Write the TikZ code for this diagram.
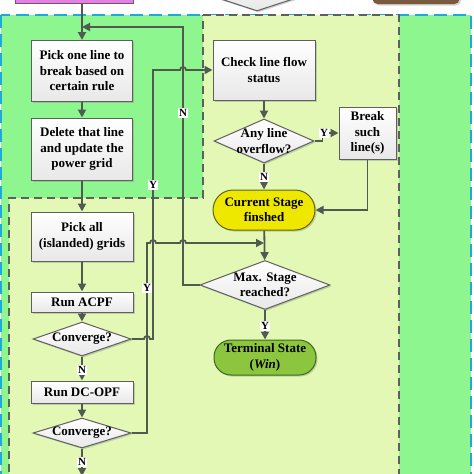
\documentclass[tikz,border=0pt]{standalone}
\usepackage{fontspec}
\setmainfont{Liberation Serif}
\usetikzlibrary{shapes.geometric,shadows,arrows.meta}
\definecolor{outgreen}{RGB}{142,246,142}
\definecolor{ingreen}{RGB}{226,248,180}
\definecolor{dashcyan}{RGB}{30,168,220}
\definecolor{linegray}{RGB}{80,90,80}
\definecolor{boxgray}{RGB}{95,95,95}
\definecolor{curyellow}{RGB}{238,232,0}
\definecolor{curline}{RGB}{100,100,20}
\definecolor{termgreen}{RGB}{140,198,62}
\definecolor{termline}{RGB}{60,105,30}
\definecolor{prevpink}{RGB}{232,125,232}
\definecolor{brownbox}{RGB}{122,90,62}

\tikzset{
  proc/.style={draw=boxgray, line width=1pt, top color=white, bottom color=gray!18,
    drop shadow={opacity=0.35,shadow xshift=1.5pt,shadow yshift=-1.5pt},
    align=center, font=\fontsize{13}{15.5}\selectfont\bfseries, inner sep=1pt},
  dec/.style={diamond, draw=boxgray, line width=1pt, top color=white, bottom color=gray!18,
    drop shadow={opacity=0.35,shadow xshift=1.5pt,shadow yshift=-1.5pt}, inner sep=0pt},
  dectxt/.style={align=center, font=\fontsize{13}{15.5}\selectfont\bfseries, inner sep=0pt},
  stadium/.style={line width=1pt, align=center, font=\fontsize{13}{15.5}\selectfont\bfseries,
    drop shadow={opacity=0.35,shadow xshift=1.5pt,shadow yshift=-1.5pt}},
  flow/.style={draw=linegray, line width=1.8pt, -{Triangle[length=8pt,width=8pt]}},
  yn/.style={fill=white, inner sep=1pt, font=\fontsize{11}{11}\selectfont\bfseries},
}

\begin{document}
\begin{tikzpicture}[x=1pt,y=-1pt]
  \useasboundingbox (0,0) rectangle (474,474);
  \fill[white] (0,0) rectangle (474,474);
  %zonas
  \draw[dashcyan, line width=2.5pt, dash pattern=on 13pt off 6pt, fill=outgreen] (1,15) rectangle (471,490);
  \draw[boxgray, line width=1.3pt, dash pattern=on 8pt off 5pt, fill=ingreen]
    (203,15) -- (399,15) -- (399,490) -- (9,490) -- (9,198) -- (203,198) -- cycle;

  %arriba
  \node[draw=boxgray, line width=1pt, fill=prevpink, minimum width=118pt, minimum height=30pt] (prev) at (74,-12) {};
  \node[dec, minimum width=152pt, minimum height=50pt] (topd) at (257,-14) {};
  \node[fill=brownbox, rounded corners=5pt, minimum width=87pt, minimum height=30pt,
    drop shadow={opacity=0.35,shadow xshift=1.5pt,shadow yshift=-1.5pt}] (nxt) at (416,-11) {};

  %columna izquierda
  \node[proc, minimum width=101pt, minimum height=61pt] (pick) at (82,71) {Pick one line to\\break based on\\certain rule};
  \node[proc, minimum width=101pt, minimum height=62pt] (del) at (82,149) {Delete that line\\and update the\\power grid};
  \node[proc, minimum width=102pt, minimum height=49pt] (pall) at (82,236.5) {Pick all\\(islanded) grids};
  \node[proc, minimum width=102pt, minimum height=20pt] (acpf) at (82,302) {Run ACPF};
  \node[dec, minimum width=98pt, minimum height=34pt] (conv1) at (82,339) {};
  \node[dectxt] (conv1t) at (conv1) {Converge?};
  \node[proc, minimum width=102pt, minimum height=22pt] (dcopf) at (82,392) {Run DC-OPF};
  \node[dec, minimum width=98pt, minimum height=30pt] (conv2) at (82,433) {};
  \node[dectxt] (conv2t) at (conv2) {Converge?};
  \coordinate (out) at (82,476);

  %columna derecha
  \node[proc, minimum width=102pt, minimum height=60pt] (check) at (264,70) {Check line flow\\status};
  \node[dec, minimum width=100pt, minimum height=44pt] (ovf) at (264,141) {};
  \node[dectxt] (ovft) at (ovf) {Any line\\overflow?};
  \node[proc, minimum width=57pt, minimum height=52pt] (brk) at (367.5,133) {Break\\such\\line(s)};
  \node[stadium, draw=curline, fill=curyellow, rounded corners=20pt, minimum width=102pt, minimum height=40pt] (cur) at (264,210) {Current Stage\\finshed};
  \node[dec, minimum width=130pt, minimum height=49pt] (maxs) at (265,285) {};
  \node[dectxt] (maxst) at (maxs) {Max. Stage\\reached?};
  \node[stadium, draw=termline, fill=termgreen, rounded corners=17pt, minimum width=102pt, minimum height=35pt] (term) at (265,357.5) {Terminal State\\(\textit{Win})};

  \coordinate (top) at (82,27);
  \coordinate (mj) at (264,243);

  %flechas
  \draw[flow] (pick.north |- prev.south) -- (pick.north);
  \draw[flow] (pick) -- (del);
  \draw[flow] (del) -- (pall);
  \draw[flow] (pall) -- (acpf);
  \draw[flow] (acpf) -- (conv1);
  \draw[flow] (conv1) -- (dcopf);
  \draw[flow] (dcopf) -- (conv2);
  \draw[flow] (conv2) -- (out);
  \draw[flow] (check) -- (ovf);
  \draw[flow] (ovf.east) -- ++(8,0) |- (brk.west);
  \draw[flow] (brk.south) |- (cur.east);
  \draw[flow] (ovf) -- (cur);
  \draw[flow] (cur) -- (maxs);
  \draw[flow] (maxs) -- (term);
  %lazos
  \draw[flow] (maxs.west) -- (183,285) -- (183,27) -- (top);
  \draw[flow] (conv2.east) -- (147,433) -- (147,243) -- (150,243)
    arc[start angle=180,end angle=0,radius=3pt] -- (180,243)
    arc[start angle=180,end angle=0,radius=3pt] -- (mj);
  \draw[flow] (conv1.east) -- (144,339) arc[start angle=180,end angle=0,radius=3pt]
    -- (153,339) -- (153,70) -- (180,70)
    arc[start angle=180,end angle=0,radius=3pt] -- (check.west);

  %etiquetas
  \node[yn] (n1) at (183,113) {N};
  \node[yn] (y1) at (153,185) {Y};
  \node[yn] (y2) at (147,288) {Y};
  \node[yn] (n2) at (82,370) {N};
  \node[yn] (n3) at (82,462) {N};
  \node[yn] (y3) at (324,133) {Y};
  \node[yn] (n4) at (264,177) {N};
  \node[yn] (y4) at (265,326) {Y};
\end{tikzpicture}
\end{document}
